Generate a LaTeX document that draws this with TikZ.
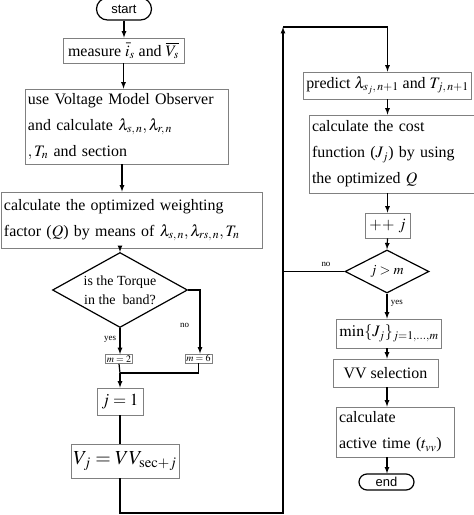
\documentclass[tikz,border=0pt]{standalone}
\usepackage{mathptmx}
\usepackage[no-math]{fontspec}
\setmainfont{Liberation Serif}
\newfontfamily\termfont{Liberation Sans}
\usetikzlibrary{shapes.geometric,shapes.misc}

\tikzset{
  box/.style={draw=gray,line width=0.8bp,inner xsep=3bp,inner ysep=1bp,align=left,
    font=\fontsize{16}{26}\selectfont},
  term/.style={draw,rounded rectangle,line width=1.2bp,inner sep=0bp,
    font=\termfont\fontsize{13}{15}\selectfont},
  decide/.style={draw,diamond,line width=1.2bp,inner sep=0bp,align=center},
  tag/.style={draw=gray,line width=0.6bp,inner sep=1.2bp,font=\fontsize{10}{12}\selectfont},
  note/.style={font=\fontsize{9}{10}\selectfont},
  flow/.style={->,>=latex,line width=1.2bp},
  link/.style={line width=1.2bp},
}

\begin{document}
\begin{tikzpicture}[x=1bp,y=-1bp]
        \useasboundingbox (0,0) rectangle (474,515);

        % Left column
        \node[term,minimum width=55bp,minimum height=22bp] (start) at (124,9) {start};
        \node[box,minimum width=121bp,minimum height=25bp,align=center] (measure) at (123.5,50.5)
          {measure $\bar{i}_s$ and $\overline{V_s}$};
        \node[box,text width=197bp,minimum height=75bp] (observer) at (126.5,126.5)
          {use Voltage Model Observer\\and calculate $\lambda_{s,\,n},\lambda_{r,\,n}$\\ $,T_n$ and section};
        \node[box,text width=255bp,minimum height=56bp] (weight) at (131.5,220)
          {calculate the optimized weighting\\factor ($Q$) by means of $\lambda_{s,\,n},\lambda_{rs,\,n},T_n$};
        \node[decide,aspect=1.8,minimum width=135bp,minimum height=75bp,
          font=\fontsize{14}{19}\selectfont] (torque) at (120,290) {is the Torque\\in the\ \ band?};
        \node[tag] (mtwo) at (119,359) {$m=2$};
        \node[tag] (msix) at (198.5,358.5) {$m=6$};
        \node[box,minimum width=46bp,minimum height=27bp,align=center,
          font=\fontsize{17}{20}\selectfont] (jone) at (120,401.5) {$j=1$};
        \node[box,minimum width=108bp,minimum height=34bp,align=center,inner xsep=2bp,
          font=\fontsize{20}{24}\selectfont] (vsec) at (125,461) {$V_j=VV_{\mathrm{sec}+j}$};

        % Right column
        \node[box,minimum width=167bp,minimum height=27bp,align=center] (predict) at (387.5,85.5)
          {predict $\lambda_{s_j,\,n+1}$ and $T_{j,\,n+1}$};
        \node[box,text width=159bp,minimum height=78bp] (cost) at (391.5,154)
          {calculate the cost\\function ($J_j$) by using\\ the optimized $Q$};
        \node[box,minimum width=45bp,minimum height=25bp,align=center] (incj) at (387.5,225.5) {$+\!+\,j$};
        \node[decide,aspect=2,minimum width=84bp,minimum height=43bp,
          font=\fontsize{14}{16}\selectfont] (jm) at (387,271.5) {$j>m$};
        \node[box,minimum width=96bp,minimum height=29bp,align=center] (minJ) at (389,333.5)
          {$\min\{J_j\}_{j=1,\dots,m}$};
        \node[box,minimum width=105bp,minimum height=28bp,align=center] (vvsel) at (385.5,373)
          {VV selection};
        \node[box,text width=112bp,minimum height=50bp] (active) at (395,432)
          {calculate\\active time ($t_{vv}$)};
        \node[term,minimum width=55bp,minimum height=16bp] (stop) at (386.5,482) {end};

        % Loop corners
        \coordinate (lowcorner) at (283,513);
        \coordinate (topcorner) at (283,27);
        \coordinate (nocorner) at (283,271.5);
        \coordinate (torqueno) at (200,290);
        \coordinate (merge) at (120,373);

        % Left connectors
        \draw[flow] (start.south) -- (start.south |- measure.north);
        \draw[flow] (measure.south) -- (measure.south |- observer.north);
        \draw[flow] (observer.south -| 122,0) -- (122,0 |- weight.north);
        \draw[flow] (weight.south -| torque) -- (torque.north);
        \draw[flow] (torque.south) -- (torque.south |- mtwo.north) node[note,pos=0.45,left] {yes};
        \draw[flow] (torque.east) -- (torqueno) -- (torqueno |- msix.north) node[note,pos=0.55,left=7bp] {no};
        \draw[link] (mtwo.south) -- (merge);
        \draw[link] (msix.south) |- (merge);
        \draw[flow] (merge) -- (jone.north);
        \draw[link] (jone.south) -- (jone.south |- vsec.north);

        % Loop back
        \draw[flow] (jone.south |- vsec.south) |- (lowcorner) -- (topcorner);
        \draw[flow] (topcorner) -| (predict.north);
        \draw[link] (jm.west) -- (nocorner) node[note,pos=0.3,above=1bp] {no};

        % Right connectors
        \draw[flow] (predict.south) -- (predict.south |- cost.north);
        \draw[flow] (cost.south -| incj) -- (incj.north);
        \draw[flow] (incj.south) -- (jm.north);
        \draw[flow] (jm.south) -- (jm.south |- minJ.north) node[note,pos=0.4,right] {yes};
        \draw[flow] (minJ.south -| jm) -- (jm |- vvsel.north);
        \draw[flow] (vvsel.south -| jm) -- (jm |- active.north);
        \draw[flow] (active.south -| jm) -- (jm |- stop.north);
\end{tikzpicture}
\end{document}
